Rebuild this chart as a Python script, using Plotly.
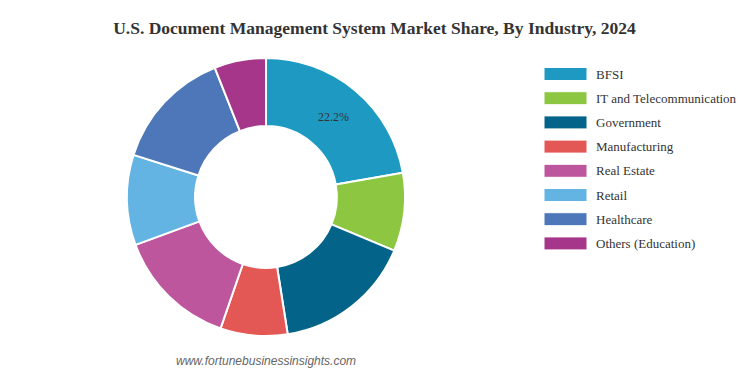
import plotly.graph_objects as go

categories = ["BFSI", "IT and Telecommunication", "Government", "Manufacturing",
              "Real Estate", "Retail", "Healthcare", "Others (Education)"]
shares = [22.2, 9.1, 16.2, 7.8, 14.1, 10.5, 14.1, 6.0]
colors = ["#1E9AC2", "#8DC641", "#046388", "#E35754",
          "#BE569E", "#63B3E3", "#4E77BA", "#A53689"]
shown_labels = ["22.2%", "", "", "", "", "", "", ""]

W, H = 748, 374
OFF = 8  # page body margin offset
cx, cy, R = 266 - OFF, 197 - OFF, 139

fig = go.Figure(go.Pie(
    labels=categories, values=shares, text=shown_labels,
    textinfo="text", textposition="inside", insidetextorientation="horizontal",
    textfont=dict(family="Liberation Serif", size=12, color="#333333"),
    hole=0.51, sort=False, direction="clockwise", rotation=0,
    marker=dict(colors=colors, line=dict(color="white", width=2)),
    showlegend=False, hoverinfo="label+percent",
    domain=dict(x=[(cx - R) / W, (cx + R) / W], y=[1 - (cy + R) / H, 1 - (cy - R) / H]),
))

shapes = []
annotations = []
x0, x1, tx = 544 - OFF, 587 - OFF, 594 - OFF
y_start, step, sh = 74 - OFF, 24.2, 13
for i, (cat, col) in enumerate(zip(categories, colors)):
    yc = y_start + i * step
    shapes.append(dict(type="rect", xref="paper", yref="paper",
                       x0=x0 / W, x1=x1 / W, y0=1 - (yc + sh / 2) / H, y1=1 - (yc - sh / 2) / H,
                       fillcolor=col, line=dict(color="white", width=1)))
    annotations.append(dict(text=cat, xref="paper", yref="paper", x=tx / W, y=1 - yc / H,
                            xanchor="left", yanchor="middle", showarrow=False,
                            font=dict(family="Liberation Serif", size=13, color="#333333")))

annotations.append(dict(text="www.fortunebusinessinsights.com", xref="paper", yref="paper",
                        x=cx / W, y=1 - (361 - OFF) / H, xanchor="center", yanchor="middle",
                        showarrow=False,
                        font=dict(family="Liberation Sans", size=12, color="#666666", style="italic")))

fig.update_layout(
    width=W, height=H,
    margin=dict(l=0, r=0, t=0, b=0),
    paper_bgcolor="white", plot_bgcolor="white",
    title=dict(text="<b>U.S. Document Management System Market Share, By Industry, 2024</b>",
               x=(374.5 - OFF) / W, xanchor="center", y=1 - (28 - OFF) / H, yanchor="middle",
               yref="container",
               font=dict(family="Liberation Serif", size=17.5, color="#333333")),
    shapes=shapes, annotations=annotations,
)

fig.write_html("out.html")
